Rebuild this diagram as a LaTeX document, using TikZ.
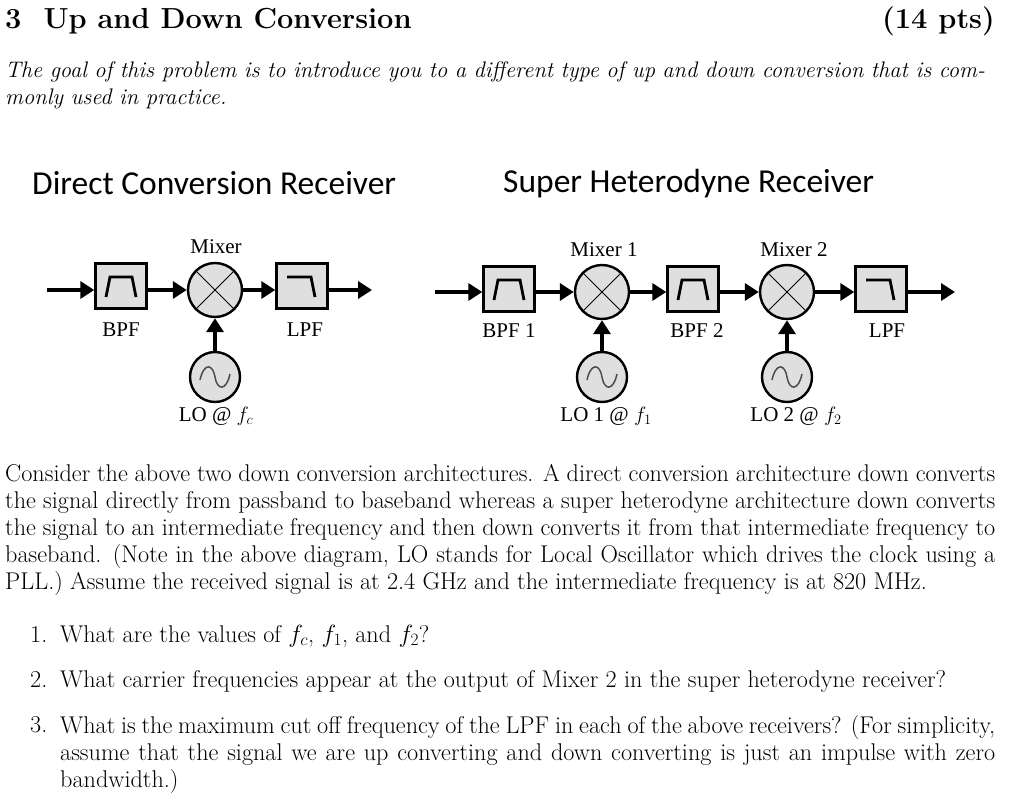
\documentclass[tikz,border=0pt]{standalone}
\usepackage{fontspec}
\setmainfont{Latin Modern Roman}
\newfontfamily\sansf{Carlito}
\newfontfamily\timesf{Liberation Serif}
\usetikzlibrary{arrows.meta}
\begin{document}
\begin{tikzpicture}[x=1pt,y=-1pt,
  flt/.style={draw,line width=2.4pt,fill=gray!25,minimum width=51pt,minimum height=45pt,inner sep=0pt},
  mix/.style={draw,circle,line width=2.4pt,fill=gray!25,minimum size=54pt,inner sep=0pt},
  osc/.style={draw,circle,line width=2.4pt,fill=gray!25,minimum size=50pt,inner sep=0pt},
  sig/.style={line width=3.8pt,-{Triangle[length=14pt,width=17pt]}},
  lab/.style={font=\timesf\fontsize{21}{24}\selectfont,inner sep=0pt},
  body/.style={anchor=north west,inner sep=0pt,text width=990pt,align=justify,font=\fontsize{24.2}{27}\selectfont}]
\useasboundingbox (0,0) rectangle (1024,805);
\fill[white] (0,0) rectangle (1024,805);
% heading
\node[anchor=base west,inner sep=0pt,font=\bfseries\fontsize{29}{32}\selectfont] (h) at (5,29) {3\hspace{22pt}Up and Down Conversion};
\node[anchor=base east,inner sep=0pt,font=\bfseries\fontsize{29}{32}\selectfont] (pts) at (995,29) {(14 pts)};
\node[body,align=left,font=\itshape\fontsize{22.5}{27}\selectfont] (intro) at (5,61) {\makebox[990pt][s]{The goal of this problem is to introduce you to a different type of up and down conversion that is com-}\\ monly used in practice.};
% titles
\node[anchor=base west,inner sep=0pt,font=\sansf\fontsize{33.5}{36}\selectfont] (t1) at (32,194) {Direct Conversion Receiver};
\node[anchor=base west,inner sep=0pt,font=\sansf\fontsize{33.5}{36}\selectfont] (t2) at (503,192) {Super Heterodyne Receiver};
\newcommand{\bpfsym}[1]{\draw[line width=2.8pt] ([shift={(-15,11)}]#1.center) -- ([shift={(-11,-9)}]#1.center) -- ([shift={(11,-9)}]#1.center) -- ([shift={(15,11)}]#1.center);}
\newcommand{\lpfsym}[1]{\draw[line width=2.8pt] ([shift={(-15,-9)}]#1.center) -- ([shift={(9,-9)}]#1.center) -- ([shift={(13,11)}]#1.center);}
\newcommand{\mixsym}[1]{\draw[line width=0.8pt] (#1.north east) -- (#1.south west) (#1.north west) -- (#1.south east);}
\newcommand{\oscsym}[1]{\draw[line width=1.5pt,gray!60!black] ([shift={(-15,3)}]#1.center) .. controls ([shift={(-11,-15)}]#1.center) and ([shift={(-2,-13)}]#1.center) .. ([shift={(0,0)}]#1.center) .. controls ([shift={(2,13)}]#1.center) and ([shift={(11,15)}]#1.center) .. ([shift={(15,-3)}]#1.center);}
% left diagram
\coordinate (inL) at (47,290);
\node[flt] (bpf) at (121,286) {};
\node[mix] (mx) at (215,290) {};
\node[flt] (lpf) at (302,286) {};
\coordinate (outL) at (372,290);
\node[osc] (lo) at (215,377) {};
\bpfsym{bpf}\lpfsym{lpf}\mixsym{mx}\oscsym{lo}
\draw[sig] (inL) -- (bpf.west|-inL);
\draw[sig] (bpf.east|-inL) -- (mx.west);
\draw[sig] (mx.east) -- (lpf.west|-inL);
\draw[sig] (lpf.east|-inL) -- (outL);
\draw[sig] (lo.north) -- (mx.south);
\node[lab] (lm) at (216,247) {Mixer};
\node[lab] (lb) at (121,330) {BPF};
\node[lab] (ll) at (305,330) {LPF};
\node[lab] (llo) at (216,416) {LO @ $f_c$};
% right diagram
\coordinate (inR) at (435,292);
\node[flt] (b1) at (509,289) {};
\node[mix] (m1) at (602,292) {};
\node[flt] (b2) at (693,289) {};
\node[mix] (m2) at (787,292) {};
\node[flt] (l2) at (881,289) {};
\coordinate (outR) at (955,292);
\node[osc] (o1) at (602,377) {};
\node[osc] (o2) at (787,377) {};
\bpfsym{b1}\bpfsym{b2}\lpfsym{l2}\mixsym{m1}\mixsym{m2}\oscsym{o1}\oscsym{o2}
\draw[sig] (inR) -- (b1.west|-inR);
\draw[sig] (b1.east|-inR) -- (m1.west);
\draw[sig] (m1.east) -- (b2.west|-inR);
\draw[sig] (b2.east|-inR) -- (m2.west);
\draw[sig] (m2.east) -- (l2.west|-inR);
\draw[sig] (l2.east|-inR) -- (outR);
\draw[sig] (o1.north) -- (m1.south);
\draw[sig] (o2.north) -- (m2.south);
\node[lab] (lm1) at (604,250) {Mixer 1};
\node[lab] (lm2) at (794,250) {Mixer 2};
\node[lab] (lb1) at (509,331) {BPF 1};
\node[lab] (lb2) at (697,331) {BPF 2};
\node[lab] (ll2) at (887,331) {LPF};
\node[lab] (lo1) at (606,416) {LO 1 @ $f_1$};
\node[lab] (lo2) at (796,416) {LO 2 @ $f_2$};
% body
\node[body] (p) at (5,464) {Consider the above two down conversion architectures. A direct conversion architecture down converts the signal directly from passband to baseband whereas a super heterodyne architecture down converts the signal to an intermediate frequency and then down converts it from that intermediate frequency to baseband. (Note in the above diagram, LO stands for Local Oscillator which drives the clock using a PLL.) Assume the received signal is at 2.4 GHz and the intermediate frequency is at 820 MHz.};
\node[anchor=base west,inner sep=0pt,font=\fontsize{24.2}{27}\selectfont] (q1n) at (30,642) {1.};
\node[anchor=base west,inner sep=0pt,font=\fontsize{24.2}{27}\selectfont] (q1) at (60,642) {What are the values of $f_c$, $f_1$, and $f_2$?};
\node[anchor=base west,inner sep=0pt,font=\fontsize{24.2}{27}\selectfont] (q2n) at (30,687) {2.};
\node[anchor=base west,inner sep=0pt,font=\fontsize{24.2}{27}\selectfont] (q2) at (60,687) {What carrier frequencies appear at the output of Mixer 2 in the super heterodyne receiver?};
\node[anchor=base west,inner sep=0pt,font=\fontsize{24.2}{27}\selectfont] (q3n) at (30,732) {3.};
\node[body,text width=935pt] (q3) at (60,715) {What is the maximum cut off frequency of the LPF in each of the above receivers? (For simplicity, assume that the signal we are up converting and down converting is just an impulse with zero bandwidth.)};
\end{tikzpicture}
\end{document}
